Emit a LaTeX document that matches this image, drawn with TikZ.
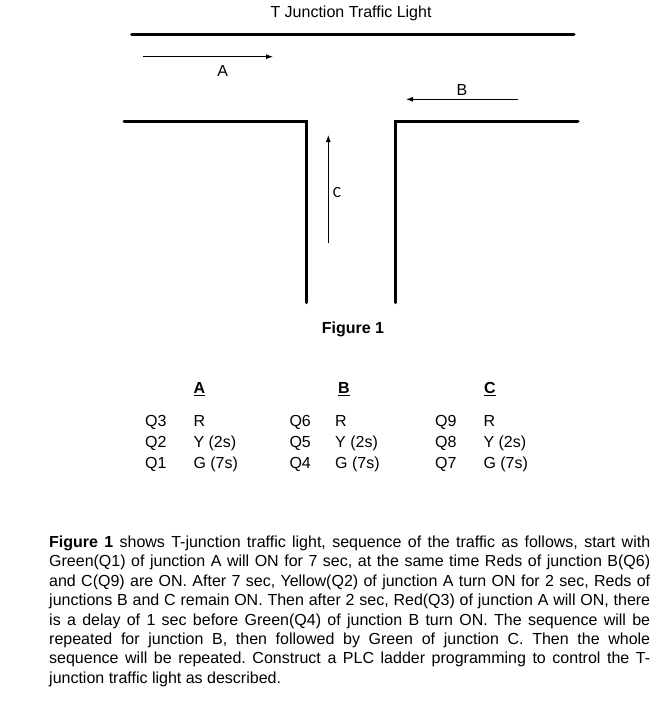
\documentclass[tikz,border=0pt]{standalone}
\usepackage{fontspec}
\setmainfont{Liberation Sans}
\newfontfamily\calib{Carlito}
\usetikzlibrary{arrows.meta}
\begin{document}
\begin{tikzpicture}[x=1pt,y=-1pt,
  road/.style={line width=3pt,line cap=round,line join=miter},
  flow/.style={line width=0.9pt,-{Latex[length=7pt,width=5pt]}},
  txt/.style={inner sep=0pt,font=\fontsize{16}{19}\selectfont},
  ttl/.style={inner sep=0pt,font=\fontsize{16}{19}\selectfont},
  hdr/.style={txt,anchor=base west,font=\fontsize{16}{19}\selectfont\bfseries},
  cell/.style={txt,anchor=base west}]
\useasboundingbox (0,0) rectangle (662,712);
% title
\node[ttl,anchor=base] (title) at (351,17) {T Junction Traffic Light};
% roads
\coordinate (t1) at (131.7,34);
\coordinate (t2) at (574,34);
\draw[road] (t1) -- (t2);
\coordinate (l1) at (124,121.7);
\coordinate (l2) at (306.7,121.7);
\coordinate (l3) at (306.7,302.7);
\draw[road] (l1) -- (l2) -- (l3);
\coordinate (r1) at (578,121.7);
\coordinate (r2) at (395,121.7);
\coordinate (r3) at (395,302.7);
\draw[road] (r1) -- (r2) -- (r3);
% flows
\coordinate (a1) at (143,56.7);
\coordinate (a2) at (273,56.7);
\draw[flow] (a1) -- (a2);
\coordinate (b1) at (518,99.3);
\coordinate (b2) at (406,99.3);
\draw[flow] (b1) -- (b2);
\coordinate (c1) at (328.3,243.3);
\coordinate (c2) at (328.3,135);
\draw[flow] (c1) -- (c2);
\node[txt,anchor=base] (la) at (222.7,76.7) {A};
\node[txt,anchor=base] (lb) at (462,95) {B};
\node[inner sep=0pt,anchor=base west,font=\calib\fontsize{15.5}{18}\selectfont] (lc) at (332.7,197.3) {C};
% caption
\node[txt,anchor=base,font=\fontsize{16}{19}\selectfont\bfseries] (cap) at (353,333) {Figure 1};
% table
\node[hdr] (hA) at (193.3,393.3) {\underline{A}};
\node[hdr] (hB) at (338,393.3) {\underline{B}};
\node[hdr] (hC) at (484,393.3) {\underline{C}};
\node[cell] (q3) at (145,426.7) {Q3};
\node[cell] (q2) at (145,447.7) {Q2};
\node[cell] (q1) at (145,468.3) {Q1};
\node[cell] (vAR) at (193.3,426.7) {R};
\node[cell] (vAY) at (193.3,447.7) {Y (2s)};
\node[cell] (vAG) at (193.3,468.3) {G (7s)};
\node[cell] (q6) at (289.3,426.7) {Q6};
\node[cell] (q5) at (289.3,447.7) {Q5};
\node[cell] (q4) at (289.3,468.3) {Q4};
\node[cell] (vBR) at (335,426.7) {R};
\node[cell] (vBY) at (335,447.7) {Y (2s)};
\node[cell] (vBG) at (335,468.3) {G (7s)};
\node[cell] (q9) at (435,426.7) {Q9};
\node[cell] (q8) at (435,447.7) {Q8};
\node[cell] (q7) at (435,468.3) {Q7};
\node[cell] (vCR) at (483.3,426.7) {R};
\node[cell] (vCY) at (483.3,447.7) {Y (2s)};
\node[cell] (vCG) at (483.3,468.3) {G (7s)};
% paragraph
\node[inner sep=0pt,anchor=base west,text width=601pt,align=justify,
      font=\fontsize{16}{19.4}\selectfont] (para) at (49,547.5)
{\frenchspacing\hyphenpenalty=10000\tolerance=10000\exhyphenpenalty=10000%
\textbf{Figure 1} shows T-junction traffic light, sequence of the traffic as follows, start with\linebreak
Green(Q1) of junction A will ON for 7 sec, at the same time Reds of junction B(Q6)\linebreak
and C(Q9) are ON. After 7 sec, Yellow(Q2) of junction A turn ON for 2 sec, Reds of\linebreak
junctions B and C remain ON. Then after 2 sec, Red(Q3) of junction A will ON, there\linebreak
is a delay of 1 sec before Green(Q4) of junction B turn ON. The sequence will be\linebreak
repeated for junction B, then followed by Green of junction C. Then the whole\linebreak
sequence will be repeated. Construct a PLC ladder programming to control the T-\linebreak
junction traffic light as described.};
\end{tikzpicture}
\end{document}
